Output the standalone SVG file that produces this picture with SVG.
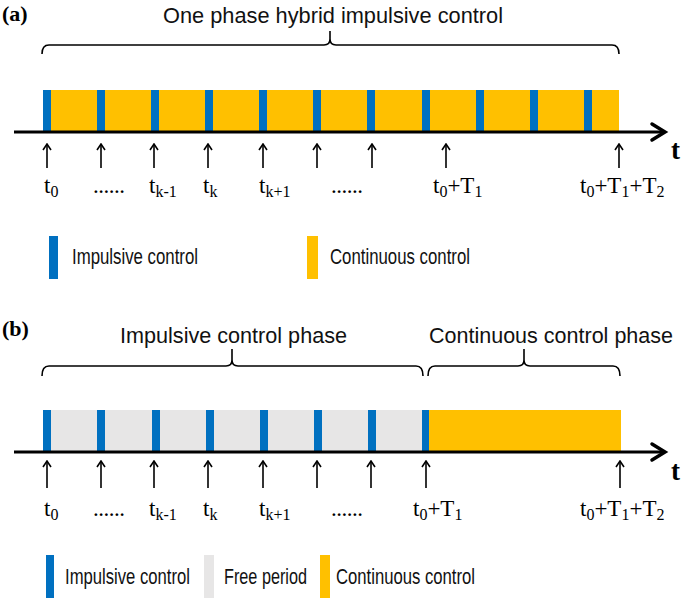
<svg xmlns="http://www.w3.org/2000/svg" width="685" height="598" viewBox="0 0 685 598">
<style>
.sans{font-family:"Liberation Sans","Noto Sans",Arial,sans-serif;fill:#111}
.serif{font-family:"Liberation Serif","Times New Roman",serif;fill:#000}
.lbl{font-size:23px}
.sub{font-size:16px}
.bold{font-weight:bold}
.imp{fill:#0070C0}
.cont{fill:#FFC000}
.free{fill:#E7E6E6}
.axis{stroke:#000;stroke-width:3;fill:none}
.head{stroke:#000;stroke-width:3.5;fill:none;stroke-linecap:round;stroke-linejoin:miter}
.brace{stroke:#000;stroke-width:1.6;fill:none}
.up{stroke:#000;stroke-width:1.6;fill:none}
</style>
<defs>
<marker id="ah" viewBox="0 0 10 10" refX="9" refY="5" markerWidth="10" markerHeight="10" markerUnits="userSpaceOnUse" orient="auto">
<path d="M3,1 L9,5 L3,9" stroke="#000" stroke-width="1.6" fill="none"/>
</marker>
</defs>

<!-- Panel (a) -->
<g id="panel-a-label"><text class="serif bold" x="2" y="21" font-size="22">(a)</text></g>
<g id="a-title"><text class="sans" x="163" y="23" font-size="22" textLength="340" lengthAdjust="spacingAndGlyphs">One phase hybrid impulsive control</text></g>
<g id="a-brace"><path class="brace" d="M42,54 Q42,45 49,45 L324,45 Q330,45 330,39 L330,31 M330,39 Q330,45 336,45 L612,45 Q619,45 619,54"/></g>

<g id="a-bar">
<rect class="cont" x="43" y="90" width="576" height="41"/>
<rect class="imp" x="43" y="90" width="8" height="41"/>
<rect class="imp" x="97" y="90" width="8" height="41"/>
<rect class="imp" x="151" y="90" width="8" height="41"/>
<rect class="imp" x="205" y="90" width="8" height="41"/>
<rect class="imp" x="259" y="90" width="8" height="41"/>
<rect class="imp" x="313" y="90" width="8" height="41"/>
<rect class="imp" x="367" y="90" width="8" height="41"/>
<rect class="imp" x="422" y="90" width="8" height="41"/>
<rect class="imp" x="476" y="90" width="8" height="41"/>
<rect class="imp" x="530" y="90" width="8" height="41"/>
<rect class="imp" x="584" y="90" width="8" height="41"/>
</g>

<g id="a-connectors">
<line class="axis" x1="14" y1="132" x2="664" y2="132"/>
<polyline class="head" points="652,124 665,132 652,140"/>
<line class="up" x1="47" y1="168" x2="47" y2="144" marker-end="url(#ah)"/>
<line class="up" x1="101" y1="168" x2="101" y2="144" marker-end="url(#ah)"/>
<line class="up" x1="154" y1="168" x2="154" y2="144" marker-end="url(#ah)"/>
<line class="up" x1="208" y1="168" x2="208" y2="144" marker-end="url(#ah)"/>
<line class="up" x1="263" y1="168" x2="263" y2="144" marker-end="url(#ah)"/>
<line class="up" x1="317" y1="168" x2="317" y2="144" marker-end="url(#ah)"/>
<line class="up" x1="372" y1="168" x2="372" y2="144" marker-end="url(#ah)"/>
<line class="up" x1="446" y1="168" x2="446" y2="144" marker-end="url(#ah)"/>
<line class="up" x1="619" y1="168" x2="619" y2="144" marker-end="url(#ah)"/>
</g>

<g id="a-labels" class="serif lbl">
<text x="671" y="159" class="serif bold" font-size="27">t</text>
<text x="44" y="193">t<tspan class="sub" dy="4">0</tspan></text>
<text x="93" y="193" textLength="32">......</text>
<text x="149" y="193">t<tspan class="sub" dy="4">k-1</tspan></text>
<text x="203" y="193">t<tspan class="sub" dy="4">k</tspan></text>
<text x="259" y="193">t<tspan class="sub" dy="4">k+1</tspan></text>
<text x="331" y="193" textLength="32">......</text>
<text x="433" y="193">t<tspan class="sub" dy="4">0</tspan><tspan dy="-4">+T</tspan><tspan class="sub" dy="4">1</tspan></text>
<text x="580" y="193">t<tspan class="sub" dy="4">0</tspan><tspan dy="-4">+T</tspan><tspan class="sub" dy="4">1</tspan><tspan dy="-4">+T</tspan><tspan class="sub" dy="4">2</tspan></text>
</g>

<g id="a-legend">
<rect class="imp" x="49" y="236" width="9" height="43"/>
<text class="sans" x="72" y="264" font-size="22" textLength="126" lengthAdjust="spacingAndGlyphs">Impulsive control</text>
<rect class="cont" x="307" y="236" width="11" height="43"/>
<text class="sans" x="330" y="264" font-size="22" textLength="140" lengthAdjust="spacingAndGlyphs">Continuous control</text>
</g>

<!-- Panel (b) -->
<g id="panel-b-label"><text class="serif bold" x="2" y="336" font-size="22">(b)</text></g>
<g id="b-title-1"><text class="sans" x="120" y="343" font-size="22" textLength="227" lengthAdjust="spacingAndGlyphs">Impulsive control phase</text></g>
<g id="b-title-2"><text class="sans" x="429" y="343" font-size="22" textLength="244" lengthAdjust="spacingAndGlyphs">Continuous control phase</text></g>
<g id="b-brace-1"><path class="brace" d="M42,376 Q42,366 49,366 L226,366 Q232,366 232,360 L232,349 M232,360 Q232,366 238,366 L416,366 Q423,366 423,376"/></g>
<g id="b-brace-2"><path class="brace" d="M428,376 Q428,366 435,366 L518,366 Q524,366 524,360 L524,349 M524,360 Q524,366 530,366 L613,366 Q620,366 620,376"/></g>

<g id="b-bar">
<rect class="free" x="43" y="410" width="380" height="41"/>
<rect class="cont" x="429" y="410" width="192" height="41"/>
<rect class="imp" x="43" y="410" width="8" height="41"/>
<rect class="imp" x="97" y="410" width="8" height="41"/>
<rect class="imp" x="152" y="410" width="8" height="41"/>
<rect class="imp" x="206" y="410" width="8" height="41"/>
<rect class="imp" x="260" y="410" width="8" height="41"/>
<rect class="imp" x="314" y="410" width="8" height="41"/>
<rect class="imp" x="368" y="410" width="8" height="41"/>
<rect class="imp" x="422" y="410" width="7" height="41"/>
</g>

<g id="b-connectors">
<line class="axis" x1="14" y1="452" x2="664" y2="452"/>
<polyline class="head" points="652,444 665,452 652,460"/>
<line class="up" x1="47" y1="488" x2="47" y2="461" marker-end="url(#ah)"/>
<line class="up" x1="101" y1="488" x2="101" y2="461" marker-end="url(#ah)"/>
<line class="up" x1="154" y1="488" x2="154" y2="461" marker-end="url(#ah)"/>
<line class="up" x1="208" y1="488" x2="208" y2="461" marker-end="url(#ah)"/>
<line class="up" x1="263" y1="488" x2="263" y2="461" marker-end="url(#ah)"/>
<line class="up" x1="317" y1="488" x2="317" y2="461" marker-end="url(#ah)"/>
<line class="up" x1="371" y1="488" x2="371" y2="461" marker-end="url(#ah)"/>
<line class="up" x1="426" y1="488" x2="426" y2="461" marker-end="url(#ah)"/>
<line class="up" x1="620" y1="488" x2="620" y2="461" marker-end="url(#ah)"/>
</g>

<g id="b-labels" class="serif lbl">
<text x="671" y="480" class="serif bold" font-size="27">t</text>
<text x="44" y="516">t<tspan class="sub" dy="4">0</tspan></text>
<text x="93" y="516" textLength="32">......</text>
<text x="149" y="516">t<tspan class="sub" dy="4">k-1</tspan></text>
<text x="203" y="516">t<tspan class="sub" dy="4">k</tspan></text>
<text x="259" y="516">t<tspan class="sub" dy="4">k+1</tspan></text>
<text x="331" y="516" textLength="32">......</text>
<text x="413" y="516">t<tspan class="sub" dy="4">0</tspan><tspan dy="-4">+T</tspan><tspan class="sub" dy="4">1</tspan></text>
<text x="580" y="516">t<tspan class="sub" dy="4">0</tspan><tspan dy="-4">+T</tspan><tspan class="sub" dy="4">1</tspan><tspan dy="-4">+T</tspan><tspan class="sub" dy="4">2</tspan></text>
</g>

<g id="b-legend">
<rect class="imp" x="46" y="555" width="8" height="43"/>
<text class="sans" x="65" y="584" font-size="22" textLength="125" lengthAdjust="spacingAndGlyphs">Impulsive control</text>
<rect class="free" x="204" y="555" width="10" height="43"/>
<text class="sans" x="224" y="584" font-size="22" textLength="83" lengthAdjust="spacingAndGlyphs">Free period</text>
<rect class="cont" x="320" y="555" width="10" height="43"/>
<text class="sans" x="336" y="584" font-size="22" textLength="139" lengthAdjust="spacingAndGlyphs">Continuous control</text>
</g>
</svg>
